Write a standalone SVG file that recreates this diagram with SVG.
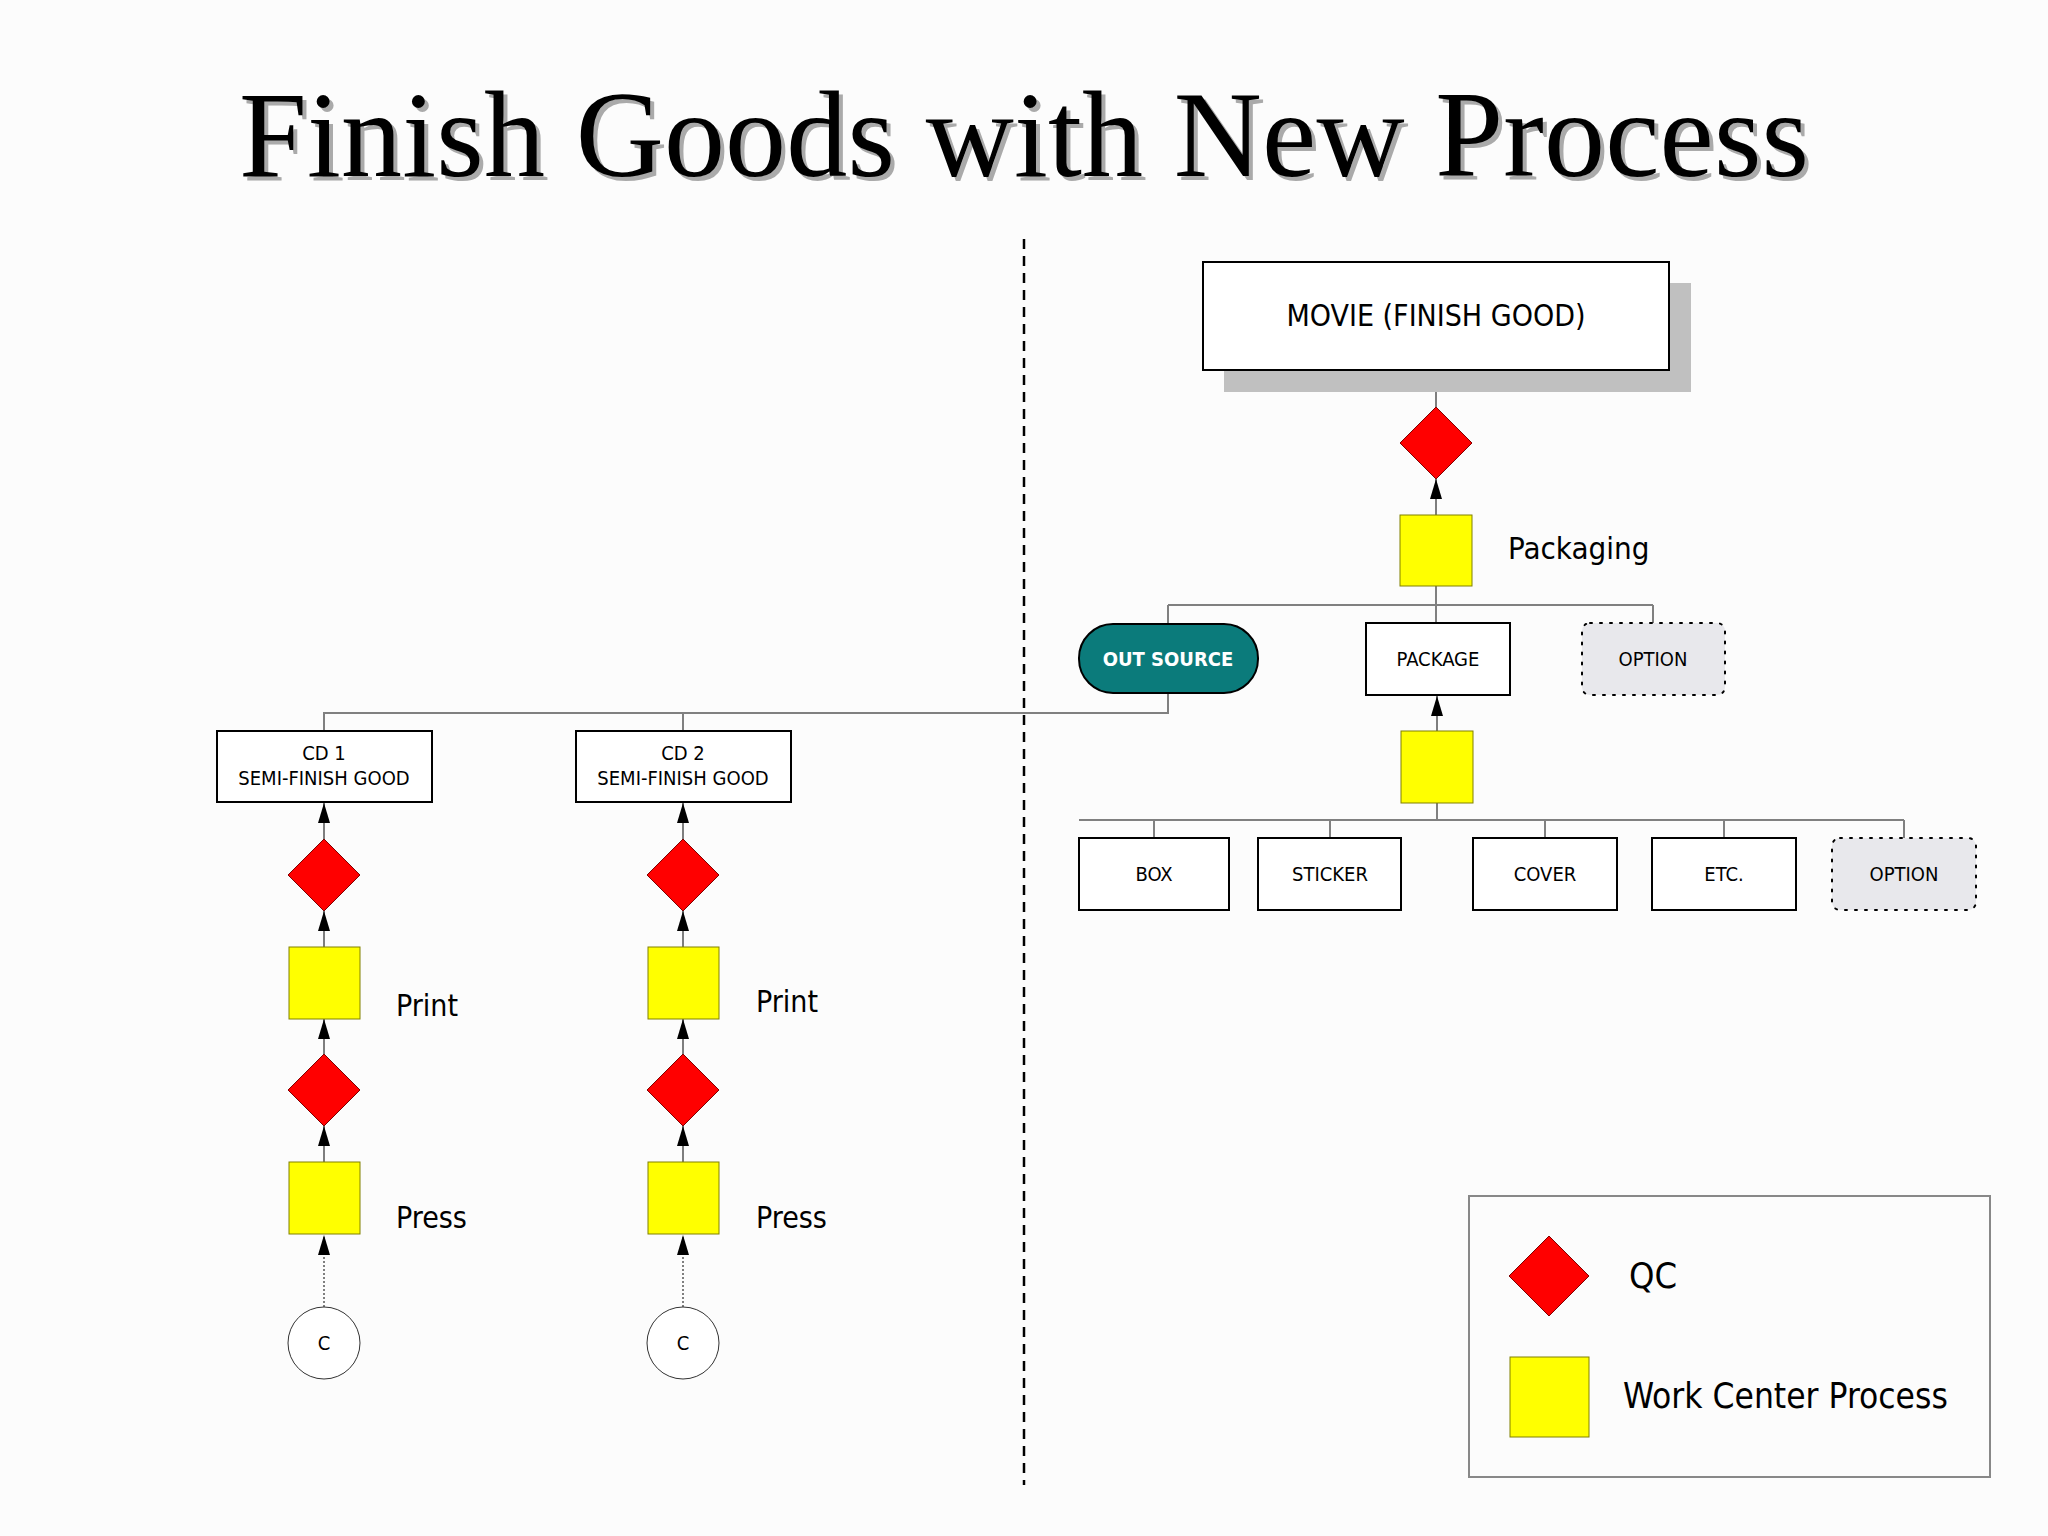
<svg xmlns="http://www.w3.org/2000/svg" width="2048" height="1536" viewBox="0 0 2048 1536">
<defs>
<marker id="ah" viewBox="0 0 10 10" refX="10" refY="5" markerWidth="10" markerHeight="10" markerUnits="userSpaceOnUse" orient="auto"><path d="M0,0 L10,5 L0,10 z" fill="#000"/></marker>
<marker id="ahL" viewBox="0 0 20 12" refX="20" refY="6" markerWidth="20" markerHeight="12" markerUnits="userSpaceOnUse" orient="auto"><path d="M0,0 L20,6 L0,12 z" fill="#000"/></marker>
<style>
.t{font-family:"DejaVu Sans Condensed","DejaVu Sans",sans-serif;fill:#000}
.box{fill:#fff;stroke:#000;stroke-width:2}
.opt{fill:#e8e8ec;stroke:#000;stroke-width:2;stroke-dasharray:2 8;stroke-linecap:round}
.qc{fill:#ff0000;stroke:#800000;stroke-width:1}
.wc{fill:#ffff00;stroke:#808000;stroke-width:1}
.ln{fill:none;stroke:#808080;stroke-width:2}
.ar{fill:none;stroke:#555;stroke-width:1.5;marker-end:url(#ahL)}
</style>
</defs>
<rect width="2048" height="1536" fill="#fcfcfc"/>
<text x="1028" y="180" font-family="Liberation Serif,serif" font-size="122" text-anchor="middle" fill="#aaa" textLength="1570">Finish Goods with New Process</text>
<text x="1024" y="176" font-family="Liberation Serif,serif" font-size="122" text-anchor="middle" fill="#000" textLength="1570">Finish Goods with New Process</text>
<line x1="1024" y1="239" x2="1024" y2="1485" stroke="#000" stroke-width="2.5" stroke-dasharray="10 7"/>

<g id="connectors">
<path class="ln" d="M1168,605 H1653 M1168,605 V624 M1653,605 V623 M1436,586 V623"/>
<path class="ln" d="M1168,693 V713 H324 V731 M683,713 V731"/>
<path class="ln" d="M1079,820 H1904 M1154,820 V838 M1330,820 V838 M1437,803 V820 M1545,820 V838 M1724,820 V838 M1904,820 V838"/>
<line class="ar" x1="1436" y1="407" x2="1436" y2="371"/>
<line class="ar" x1="1436" y1="515" x2="1436" y2="479"/>
<line class="ar" x1="1437" y1="731" x2="1437" y2="696"/>
<line class="ar" x1="324" y1="839" x2="324" y2="803"/>
<line class="ar" x1="324" y1="947" x2="324" y2="911"/>
<line class="ar" x1="324" y1="1054" x2="324" y2="1019"/>
<line class="ar" x1="324" y1="1162" x2="324" y2="1126"/>
<line class="ar" x1="324" y1="1307" x2="324" y2="1235" stroke-dasharray="2 2"/>
<line class="ar" x1="683" y1="839" x2="683" y2="803"/>
<line class="ar" x1="683" y1="947" x2="683" y2="911"/>
<line class="ar" x1="683" y1="1054" x2="683" y2="1019"/>
<line class="ar" x1="683" y1="1162" x2="683" y2="1126"/>
<line class="ar" x1="683" y1="1307" x2="683" y2="1235" stroke-dasharray="2 2"/>
</g>

<g id="movie"><rect x="1224" y="283" width="467" height="109" fill="#c0c0c0"/><rect class="box" x="1203" y="262" width="466" height="108"/><text class="t" x="1436" y="326" font-size="30" text-anchor="middle">MOVIE (FINISH GOOD)</text></g>
<g id="qc-top"><polygon class="qc" points="1436,407 1472,443 1436,479 1400,443"/></g>
<g id="packaging"><rect class="wc" x="1400" y="515" width="72" height="71"/><text class="t" x="1508" y="559" font-size="31">Packaging</text></g>
<g id="outsource"><rect x="1079" y="624" width="179" height="69" rx="34" fill="#0b7b7b" stroke="#000" stroke-width="2"/><text class="t" x="1168" y="666" font-size="20" font-weight="bold" fill="#fff" style="fill:#fff" text-anchor="middle">OUT SOURCE</text></g>
<g id="package"><rect class="box" x="1366" y="623" width="144" height="72"/><text class="t" x="1438" y="666" font-size="20" text-anchor="middle">PACKAGE</text></g>
<g id="option1"><rect class="opt" x="1582" y="623" width="143" height="72" rx="8"/><text class="t" x="1653" y="666" font-size="20" text-anchor="middle">OPTION</text></g>
<g id="wc-package"><rect class="wc" x="1401" y="731" width="72" height="72"/></g>
<g id="box"><rect class="box" x="1079" y="838" width="150" height="72"/><text class="t" x="1154" y="881" font-size="20" text-anchor="middle">BOX</text></g>
<g id="sticker"><rect class="box" x="1258" y="838" width="143" height="72"/><text class="t" x="1330" y="881" font-size="20" text-anchor="middle">STICKER</text></g>
<g id="cover"><rect class="box" x="1473" y="838" width="144" height="72"/><text class="t" x="1545" y="881" font-size="20" text-anchor="middle">COVER</text></g>
<g id="etc"><rect class="box" x="1652" y="838" width="144" height="72"/><text class="t" x="1724" y="881" font-size="20" text-anchor="middle">ETC.</text></g>
<g id="option2"><rect class="opt" x="1832" y="838" width="144" height="72" rx="8"/><text class="t" x="1904" y="881" font-size="20" text-anchor="middle">OPTION</text></g>

<g id="cd1"><rect class="box" x="217" y="731" width="215" height="71"/><text class="t" x="324" y="760" font-size="20" text-anchor="middle">CD 1</text><text class="t" x="324" y="785" font-size="20" text-anchor="middle">SEMI-FINISH GOOD</text></g>
<g id="cd1-qc1"><polygon class="qc" points="324,839 360,875 324,911 288,875"/></g>
<g id="cd1-print"><rect class="wc" x="289" y="947" width="71" height="72"/><text class="t" x="396" y="1016" font-size="30">Print</text></g>
<g id="cd1-qc2"><polygon class="qc" points="324,1054 360,1090 324,1126 288,1090"/></g>
<g id="cd1-press"><rect class="wc" x="289" y="1162" width="71" height="72"/><text class="t" x="396" y="1228" font-size="30">Press</text></g>
<g id="cd1-c"><circle cx="324" cy="1343" r="36" fill="#fff" stroke="#333" stroke-width="1"/><text class="t" x="324" y="1350" font-size="20" text-anchor="middle">C</text></g>

<g id="cd2"><rect class="box" x="576" y="731" width="215" height="71"/><text class="t" x="683" y="760" font-size="20" text-anchor="middle">CD 2</text><text class="t" x="683" y="785" font-size="20" text-anchor="middle">SEMI-FINISH GOOD</text></g>
<g id="cd2-qc1"><polygon class="qc" points="683,839 719,875 683,911 647,875"/></g>
<g id="cd2-print"><rect class="wc" x="648" y="947" width="71" height="72"/><text class="t" x="756" y="1012" font-size="30">Print</text></g>
<g id="cd2-qc2"><polygon class="qc" points="683,1054 719,1090 683,1126 647,1090"/></g>
<g id="cd2-press"><rect class="wc" x="648" y="1162" width="71" height="72"/><text class="t" x="756" y="1228" font-size="30">Press</text></g>
<g id="cd2-c"><circle cx="683" cy="1343" r="36" fill="#fff" stroke="#333" stroke-width="1"/><text class="t" x="683" y="1350" font-size="20" text-anchor="middle">C</text></g>

<g id="legend"><rect x="1469" y="1196" width="521" height="281" fill="none" stroke="#888" stroke-width="2"/>
<polygon class="qc" points="1549,1236 1589,1276 1549,1316 1509,1276"/>
<text class="t" x="1629" y="1288" font-size="36">QC</text>
<rect class="wc" x="1510" y="1357" width="79" height="80"/>
<text class="t" x="1623" y="1408" font-size="35">Work Center Process</text></g>
</svg>
